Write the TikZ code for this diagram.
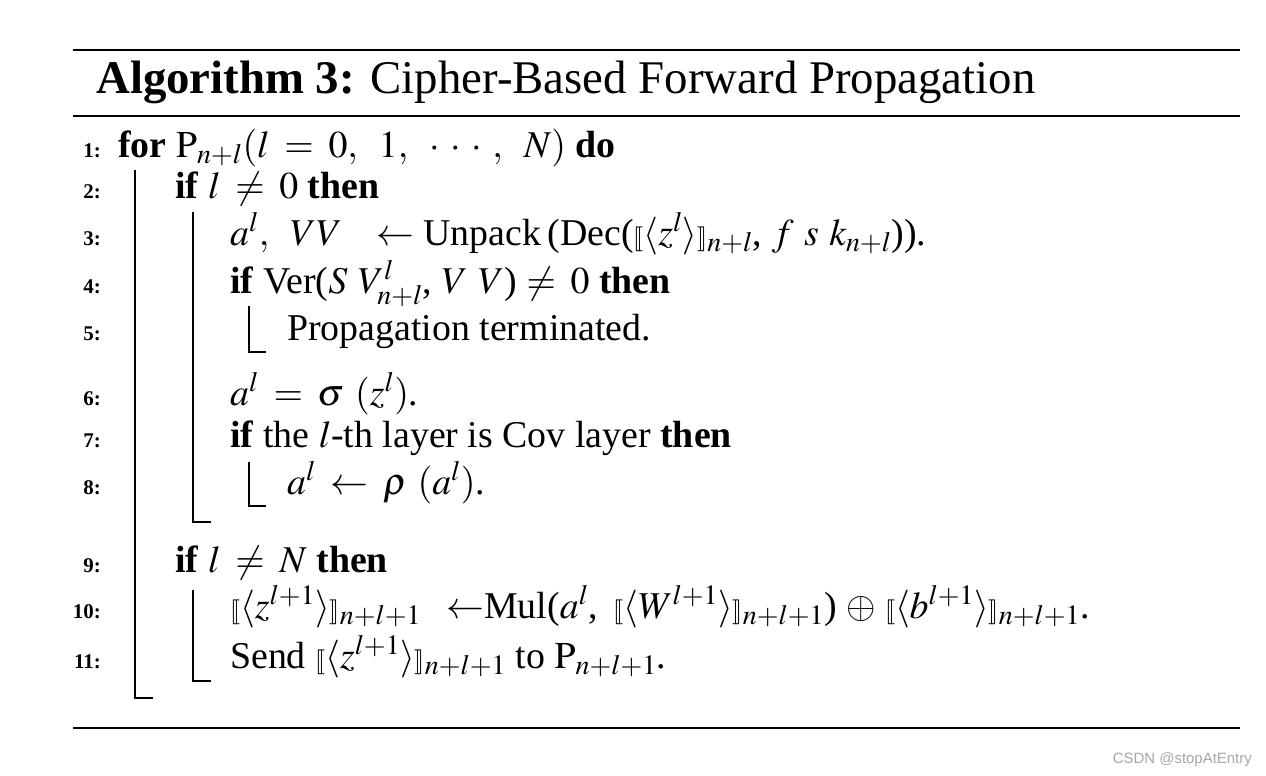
\documentclass[tikz,border=0pt]{standalone}
\usepackage{mathptmx}
\usepackage{stmaryrd}
\usepackage[no-math]{fontspec}
\setmainfont{Liberation Serif}
\newfontfamily\wmfont{Liberation Sans}
\thinmuskip=5mu \medmuskip=6mu \thickmuskip=7mu
\begin{document}
\begin{tikzpicture}[x=1bp,y=-1bp,
  txt/.style={anchor=base west,inner sep=0pt,font=\fontsize{38}{42}\selectfont},
  num/.style={anchor=base east,inner sep=0pt,font=\fontsize{21}{24}\selectfont\bfseries},
  bar/.style={line width=1.3pt}]
\useasboundingbox (0,0) rectangle (1266,776);
\draw[line width=2.4pt] (73,50) -- (1240,50);
\draw[line width=1.8pt] (73,116) -- (1240,116);
\draw[line width=2.4pt] (73,728) -- (1240,728);
\node[anchor=base west,inner sep=0pt,font=\fontsize{47}{50}\selectfont] (title) at (96,94) {\textbf{Algorithm 3:} Cipher-Based Forward Propagation};
\foreach \n/\y in {1/157,2/198,3/245,4/293,5/340,6/405,7/447,8/494,9/572,10/618,11/668}
  \node[num] (n\n) at (101,\y) {\n:};
\node[txt] (l1) at (118,157) {\textbf{for} $\mathrm{P}_{n+l}(l=0,\,1,\,\cdots,\,N)$ \textbf{do}};
\node[txt] (l2) at (175,198) {\textbf{if} $l\neq0$ \textbf{then}};
\node[txt] (l3) at (230,245) {$a^l,\,V\!\,V\ \ \leftarrow$ Unpack\,(Dec($\llbracket\langle z^l\rangle\rrbracket_{n+l}$, $f\,s\,k_{n+l}$)).};
\node[txt] (l4) at (230,293) {\textbf{if} Ver($S\,V^l_{n+l}$, $V\,V$) $\neq0$ \textbf{then}};
\node[txt] (l5) at (287,340) {Propagation terminated.};
\node[txt] (l6) at (230,405) {$a^l=\sigma\,(z^l)$.};
\node[txt] (l7) at (230,447) {\textbf{if} the $l$-th layer is Cov layer \textbf{then}};
\node[txt] (l8) at (287,494) {$a^l\leftarrow\rho\,(a^l)$.};
\node[txt] (l9) at (175,572) {\textbf{if} $l\neq N$ \textbf{then}};
\node[txt] (l10) at (230,618) {$\llbracket\langle z^{l+1}\rangle\rrbracket_{n+l+1}\,\leftarrow$Mul($a^l$,\, $\llbracket\langle W^{l+1}\rangle\rrbracket_{n+l+1}$) $\oplus$ $\llbracket\langle b^{l+1}\rangle\rrbracket_{n+l+1}$.};
\node[txt] (l11) at (230,668) {Send $\llbracket\langle z^{l+1}\rangle\rrbracket_{n+l+1}$ to $\mathrm{P}_{n+l+1}$.};
\draw[bar] (135,170) -- (135,698) -- (153,698);
\draw[bar] (193,212) -- (193,522) -- (211,522);
\draw[bar] (249,306) -- (249,352) -- (266,352);
\draw[bar] (249,462) -- (249,506) -- (266,506);
\draw[bar] (193,590) -- (193,681) -- (211,681);
\node[anchor=base east,inner sep=0pt,text=gray!70,font=\wmfont\fontsize{15}{18}\selectfont] (wm) at (1252,763) {CSDN @stopAtEntry};
\end{tikzpicture}
\end{document}
